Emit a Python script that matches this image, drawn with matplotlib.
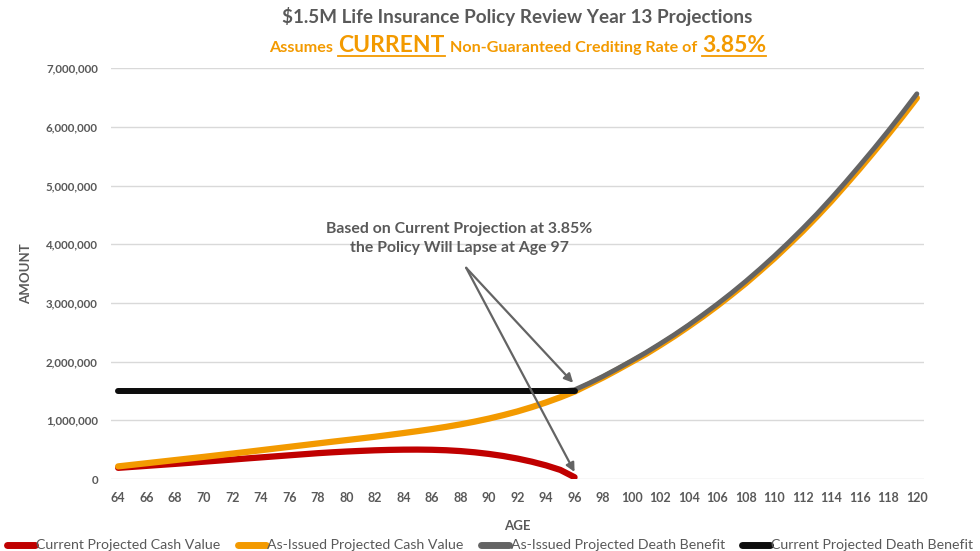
import numpy as np
import matplotlib
matplotlib.use("Agg")
import matplotlib.pyplot as plt
from matplotlib.lines import Line2D

plt.rcParams['font.family'] = ['Lato', 'DejaVu Sans']

ages = list(range(64, 121))

# current projected cash value (lapses at 96/97)
current_cv = [190000, 207000, 224000, 241000, 258000, 276000, 295000, 313000, 331000, 350000,
              368000, 386000, 404000, 422000, 440000, 455000, 468000, 479000, 489000, 496000,
              500000, 501000, 498000, 490000, 476000, 455000, 427000, 392000, 348000, 295000,
              232000, 155000, 30000]

# as-issued projected cash value
issued_cv = [215000, 242000, 269000, 296000, 323000, 350000, 377000, 405000, 433000, 461000,
             490000, 519000, 548000, 577000, 606000, 635000, 663000, 691000, 720000, 751000,
             783000, 816000, 851000, 889000, 931000, 978000, 1030000, 1088000, 1152000, 1225000,
             1305000, 1393000, 1490000, 1610000, 1730000, 1860000, 1995000, 2130000, 2280000, 2435000,
             2600000, 2770000, 2950000, 3140000, 3335000, 3545000, 3760000, 3990000, 4225000, 4475000,
             4735000, 5010000, 5290000, 5580000, 5875000, 6180000, 6495000]

# as-issued projected death benefit
issued_db = [1500000] * 32 + [1520000, 1630000, 1750000, 1880000, 2015000, 2155000, 2305000, 2460000,
             2625000, 2800000, 2980000, 3170000, 3370000, 3580000, 3800000, 4030000, 4270000, 4520000,
             4785000, 5060000, 5345000, 5635000, 5935000, 6245000, 6565000]

# current projected death benefit
current_db = [1500000] * 33

RED = "#C00000"
ORANGE = "#F39A00"
GRAY = "#646464"
BLACK = "#0D0D0D"
TXT = "#595959"

fig = plt.figure(figsize=(9.8, 5.51), dpi=100)
ax = fig.add_axes([111 / 980, 1 - 479 / 551, (924 - 111) / 980, (479 - 68.3) / 551])

ax.plot(ages[:len(current_cv)], current_cv, color=RED, lw=4.5, solid_capstyle="round",
        label="Current Projected Cash Value")
ax.plot(ages, issued_cv, color=ORANGE, lw=4.5, solid_capstyle="round",
        label="As-Issued Projected Cash Value")
ax.plot(ages, issued_db, color=GRAY, lw=3.5, solid_capstyle="round",
        label="As-Issued Projected Death Benefit")
ax.plot(ages[:len(current_db)], current_db, color=BLACK, lw=4.3, solid_capstyle="round",
        label="Current Projected Death Benefit")

ax.set_xlim(63.5, 120.5)
ax.set_ylim(0, 7000000)
ax.set_xticks(ages[::2])
ax.set_yticks(np.arange(0, 7000001, 1000000))
ax.yaxis.set_major_formatter(matplotlib.ticker.FuncFormatter(lambda v, p: f"{int(v):,}"))
ax.grid(axis="y", color="#D9D9D9", lw=1)
ax.set_axisbelow(True)
for s in ax.spines.values():
    s.set_visible(False)
ax.tick_params(length=0, colors=TXT, labelsize=9)
ax.tick_params(axis="y", labelsize=8.3)
ax.tick_params(axis="x", pad=9)
ax.tick_params(axis="y", pad=9.4)
for lab in ax.get_xticklabels() + ax.get_yticklabels():
    lab.set_fontweight("bold")

ax.set_xlabel("AGE", color=TXT, fontsize=9.5, fontweight="bold", labelpad=12)
ax.set_ylabel("AMOUNT", color=TXT, fontsize=9.5, fontweight="bold", labelpad=10)

# annotation
ax.text(87.9, 4.1e6, "Based on Current Projection at 3.85%\nthe Policy Will Lapse at Age 97",
        ha="center", va="center", color=TXT, fontsize=11.4, fontweight="bold", linespacing=1.4)
for end in [(95.9, 1.64e6), (96.0, 0.12e6)]:
    ax.annotate("", xy=end, xytext=(88.4, 3.6e6),
                arrowprops=dict(arrowstyle="-|>", color=GRAY, lw=1.6, mutation_scale=13,
                                shrinkA=0, shrinkB=0))

leg = fig.legend(loc="center", bbox_to_anchor=(0.5, 0.010), ncol=4, frameon=False,
                 fontsize=10.2, handlelength=2.0, handletextpad=0.1, columnspacing=1.2)
for t in leg.get_texts():
    t.set_color(TXT)
for h in leg.legend_handles:
    h.set_linewidth(5)

# titles
cx = 517.5 / 980
fig.text(cx, 1 - 17 / 551, r"\$1.5M Life Insurance Policy Review Year 13 Projections",
         ha="center", va="center", color=TXT, fontsize=13.6, fontweight="bold")

pieces = [("Assumes", 11.6, False), ("CURRENT", 16.5, True),
          ("Non-Guaranteed Crediting Rate of", 11.6, False), ("3.85%", 16.5, True)]
base_y = 1 - 52 / 551
fig.canvas.draw()
r = fig.canvas.get_renderer()
objs = []
for s, size, und in pieces:
    t = fig.text(0, base_y, s, ha="left", va="baseline", color=ORANGE,
                 fontsize=size, fontweight="bold")
    objs.append(t)
widths = [t.get_window_extent(r).width for t in objs]
gap = 5
total = sum(widths) + gap * (len(widths) - 1)
x = 517.5 - total / 2
for t, w, (s, size, und) in zip(objs, widths, pieces):
    t.set_x(x / 980)
    if und:
        fig.add_artist(Line2D([x / 980, (x + w) / 980], [base_y - 4 / 551] * 2,
                              transform=fig.transFigure, color=ORANGE, lw=1.3))
    x += w + gap

fig.savefig("out.png", dpi=100)
